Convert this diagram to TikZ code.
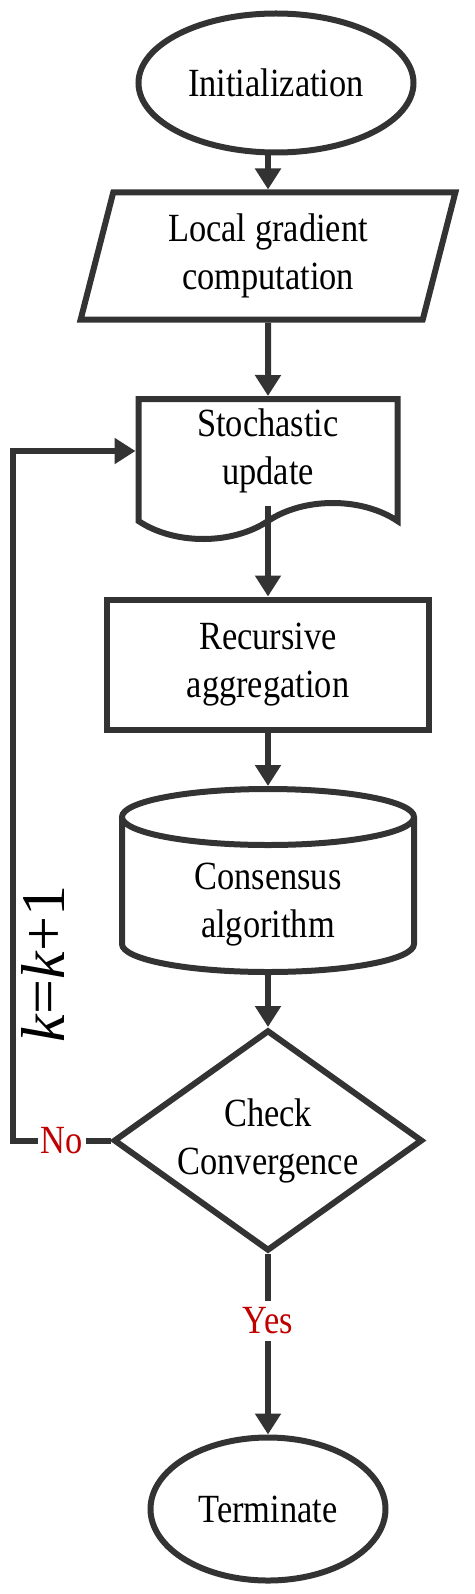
\documentclass[tikz,border=0pt]{standalone}
\usepackage{fontspec}
\setmainfont{Liberation Serif}[FakeStretch=0.86]
\newfontfamily\counterfont{Liberation Serif}
\usepackage{tikz}
\usetikzlibrary{arrows.meta,shapes.geometric,shapes.symbols}
\definecolor{linegray}{HTML}{333333}
\definecolor{labelred}{HTML}{C00000}

\begin{document}
\begin{tikzpicture}[x=1pt,y=-1pt,
    box/.style={draw=linegray,line width=6pt,align=center,inner sep=0pt,
      font=\fontsize{40}{48}\selectfont},
    flow/.style={draw=linegray,line width=6pt,-{Triangle[length=21pt,width=25pt]}},
    answer/.style={text=labelred,fill=white,inner xsep=3pt,inner ysep=7pt,
      font=\fontsize{40}{42}\selectfont}]
  \useasboundingbox (0,0) rectangle (474,1594);
  % blocks, top to bottom
  \node[box,ellipse,minimum width=275pt,minimum height=139pt] (init) at (276,83) {Initialization};
  \node[box,trapezium,trapezium left angle=76,trapezium right angle=104,trapezium stretches,
    minimum width=375pt,minimum height=127pt] (grad) at (268,256) {Local gradient\\computation};
  \node[box,tape,tape bend top=none,tape bend bottom=in and out,tape bend height=36pt,
    minimum width=259pt,minimum height=140pt] (update) at (268,451) {Stochastic\\update};
  \node[box,rectangle,minimum width=322pt,minimum height=130pt] (agg) at (268,664.5) {Recursive\\aggregation};
  % cylinder drawn by hand round an empty node
  \node[box,draw=none,minimum width=286pt,minimum height=177pt] (cons) at (268,880.5) {};
  \node[box,draw=none] (constext) at ([yshift=-24pt]cons.center) {Consensus\\algorithm};
  \draw[box] ([yshift=-28pt]cons.north west) -- ([yshift=28pt]cons.south west)
    arc[start angle=180,end angle=360,x radius=146pt,y radius=28pt]
    -- ([yshift=-28pt]cons.north east)
    arc[start angle=0,end angle=360,x radius=146pt,y radius=28pt];
  \node[box,diamond,aspect=1.4,minimum width=309pt,minimum height=221pt] (check) at (268,1140.5) {Check\\Convergence};
  \node[box,ellipse,minimum width=235pt,minimum height=143pt] (term) at (268,1509) {Terminate};
  % connectors
  \draw[flow] (init.south -| grad.north) -- (grad.north);
  \draw[flow] (grad.south) -- (update.north);
  \draw[flow] (update.south) -- (agg.north);
  \draw[flow] (agg.south) -- ([yshift=3pt]cons.north);
  \draw[flow] ([yshift=-3pt]cons.south) -- (check.north);
  \draw[flow] (check.south) -- node[answer,pos=0.37] {Yes} (term.north);
  % loop back, k=k+1
  \coordinate (loop) at (13,1140.5);
  \draw[flow] (check.west) -- node[answer] {No} (loop) |- (update.west);
  \node[rotate=90,font=\counterfont\fontsize{62}{64}\selectfont] (klabel) at (43,964) {\textit{k}=\textit{k}+1};
\end{tikzpicture}
\end{document}
